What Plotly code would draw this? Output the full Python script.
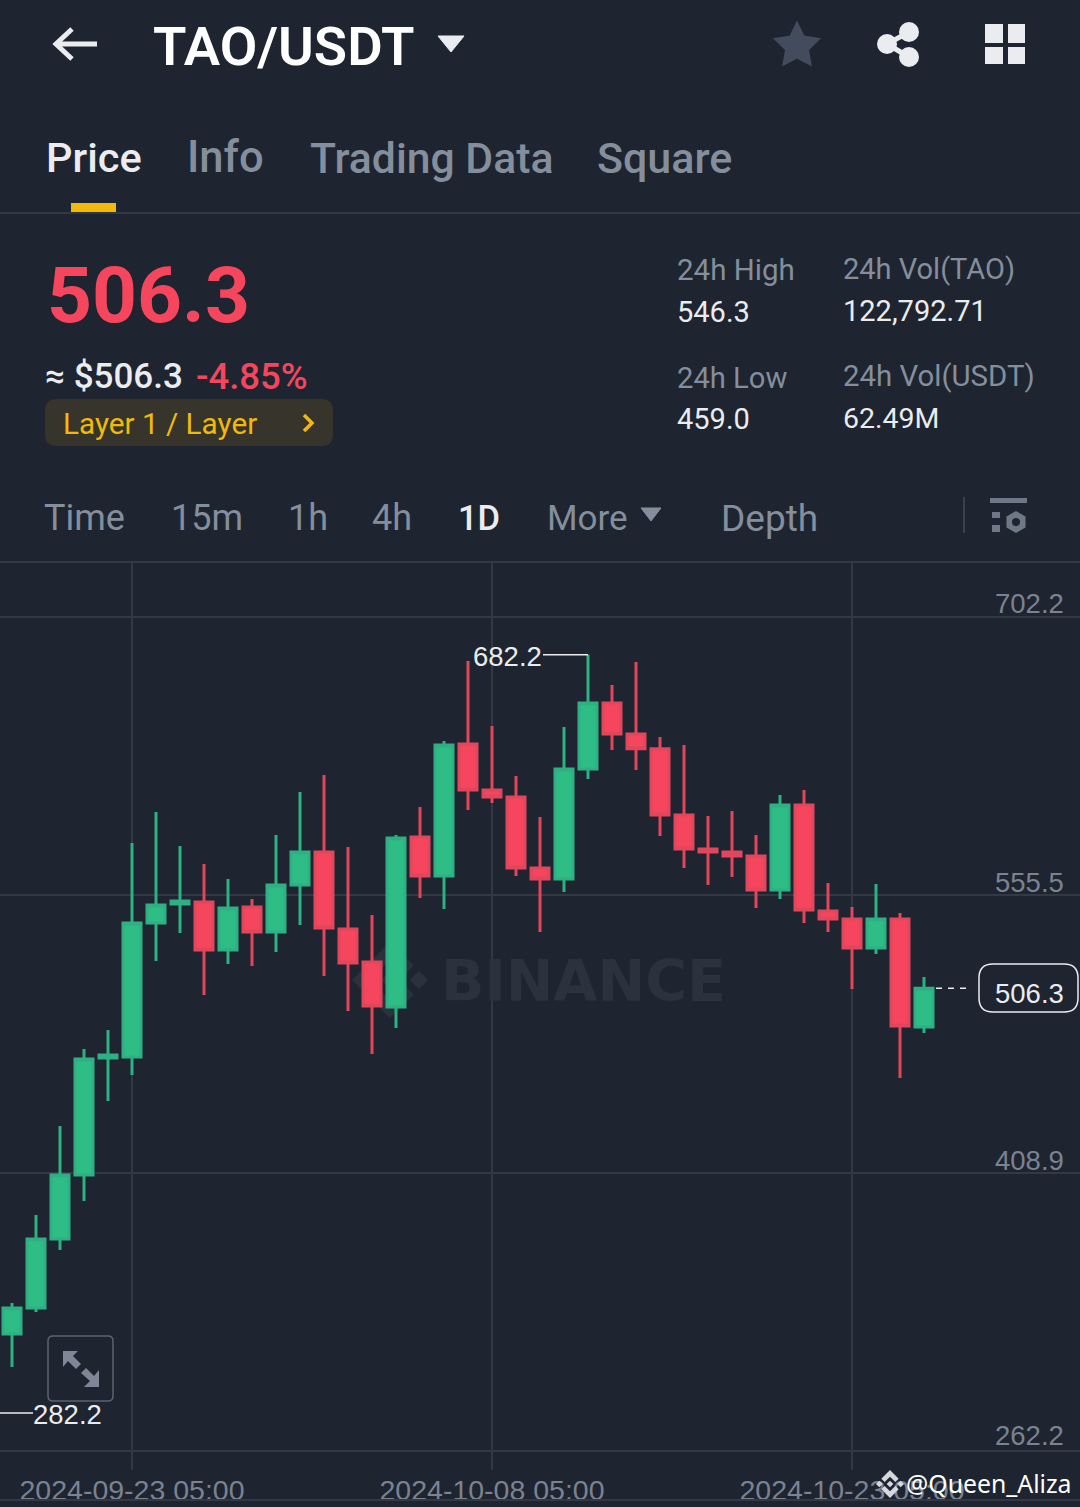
import math
import pandas as pd
import plotly.graph_objects as go

W, H = 1080, 1507

# daily candles, 2024-09-18 to 2024-10-26
dates = pd.date_range("2024-09-18 05:00", periods=39, freq="D")
opens = [323.8, 337.6, 374.0, 407.8, 469.5, 470.0, 540.7, 550.8, 551.8, 526.5,
         549.2, 536.0, 560.8, 578.2, 537.6, 520.2, 496.4, 586.1, 565.5, 635.2,
         610.9, 607.2, 569.8, 564.0, 622.0, 656.8, 640.5, 632.6, 597.7, 579.8,
         578.2, 576.1, 558.1, 603.0, 547.1, 542.8, 527.5, 542.8, 485.9]
highs = [340.2, 386.6, 433.6, 474.2, 484.3, 582.9, 599.3, 581.4, 571.9, 564.0,
         553.4, 587.2, 609.9, 618.8, 580.8, 545.0, 587.2, 601.9, 636.8, 679.0,
         644.7, 618.3, 596.7, 644.2, 682.2, 666.3, 678.5, 638.9, 634.7, 597.2,
         599.8, 587.2, 608.3, 610.9, 561.8, 549.2, 561.3, 546.0, 512.2]
lows = [306.4, 335.5, 368.2, 394.0, 446.8, 460.5, 520.7, 535.5, 502.7, 519.1,
        518.0, 525.4, 539.7, 512.8, 494.3, 471.6, 485.3, 553.9, 548.1, 600.4,
        604.1, 565.5, 536.0, 557.1, 616.7, 632.0, 621.5, 586.6, 569.8, 560.8,
        565.0, 548.6, 553.4, 540.7, 536.0, 505.9, 524.4, 458.9, 482.7]
closes = [337.6, 374.0, 407.8, 469.0, 471.1, 540.7, 550.2, 552.3, 526.5, 548.6,
          536.0, 560.8, 578.2, 538.1, 519.6, 496.9, 585.6, 565.5, 634.7, 610.9,
          607.2, 569.8, 564.0, 622.0, 656.8, 640.5, 632.6, 597.7, 579.8, 578.2,
          576.1, 558.1, 603.0, 547.6, 542.8, 527.5, 542.8, 486.4, 506.3]

price_ticks = [702.2, 555.5, 408.9, 262.2]
price_tick_labels = ["702.2", "555.5", "408.9", "262.2"]
date_ticks = ["2024-09-23 05:00", "2024-10-08 05:00", "2024-10-23 05:00"]
high_mark = 682.2
low_mark = 282.2
last_price = 506.3

BG = "#1e2530"
GRID = "#323945"
GREEN = "#2ebd85"
RED = "#f6465d"
WHITE = "#eaecef"
GRAY = "#848e9c"
AXIS_TXT = "#7b8290"
UI_FONT = "Roboto"
CHART_FONT = "Liberation Sans"


def fx(x):
    return x / W


def fy(y):
    return 1 - y / H


def poly(points, close=True):
    s = "M" + " L".join(f"{fx(x):.5f} {fy(y):.5f}" for x, y in points)
    return s + (" Z" if close else "")


def round_rect(x0, y0, x1, y1, r):
    return (f"M{fx(x0 + r):.5f} {fy(y0):.5f} L{fx(x1 - r):.5f} {fy(y0):.5f} "
            f"Q{fx(x1):.5f} {fy(y0):.5f} {fx(x1):.5f} {fy(y0 + r):.5f} "
            f"L{fx(x1):.5f} {fy(y1 - r):.5f} "
            f"Q{fx(x1):.5f} {fy(y1):.5f} {fx(x1 - r):.5f} {fy(y1):.5f} "
            f"L{fx(x0 + r):.5f} {fy(y1):.5f} "
            f"Q{fx(x0):.5f} {fy(y1):.5f} {fx(x0):.5f} {fy(y1 - r):.5f} "
            f"L{fx(x0):.5f} {fy(y0 + r):.5f} "
            f"Q{fx(x0):.5f} {fy(y0):.5f} {fx(x0 + r):.5f} {fy(y0):.5f} Z")


shapes = []
notes = []


def path(d, fill=None, line=None, width=0, layer="above"):
    shapes.append(dict(type="path", path=d, xref="paper", yref="paper", layer=layer,
                       fillcolor=fill if fill else "rgba(0,0,0,0)",
                       line=dict(color=line if line else "rgba(0,0,0,0)", width=width)))


def rect(x0, y0, x1, y1, fill):
    shapes.append(dict(type="rect", xref="paper", yref="paper", x0=fx(x0), x1=fx(x1),
                       y0=fy(y0), y1=fy(y1), fillcolor=fill, line=dict(width=0)))


def circle(cx, cy, r, fill):
    shapes.append(dict(type="circle", xref="paper", yref="paper", x0=fx(cx - r), x1=fx(cx + r),
                       y0=fy(cy - r), y1=fy(cy + r), fillcolor=fill, line=dict(width=0)))


def label(text, x, y, size, color, weight=400, family=UI_FONT, anchor="left"):
    # left anchored text lands about 2px to the right, so pull it back
    if anchor == "left":
        x = x - 2
    notes.append(dict(text=text, x=fx(x), y=fy(y), xref="paper", yref="paper", showarrow=False,
                      xanchor=anchor, yanchor="middle", borderpad=0,
                      font=dict(family=family, size=size, color=color, weight=weight)))


def diamond_logo(cx, cy, s, color, layer="above"):
    # centre and side diamonds, chevrons above and below
    for dx, dy in [(0, 0), (-0.76, 0), (0.76, 0)]:
        q = 0.24 * s
        x, y = cx + dx * s, cy + dy * s
        path(poly([(x, y - q), (x + q, y), (x, y + q), (x - q, y)]), fill=color, layer=layer)
    chevron = [(0, -1), (0.62, -0.38), (0.38, -0.14), (0, -0.52), (-0.38, -0.14), (-0.62, -0.38)]
    for sign in (1, -1):
        path(poly([(cx + a * s, cy + sign * b * s) for a, b in chevron]), fill=color, layer=layer)


# top bar
path(poly([(97, 44), (56, 44)], close=False), line=WHITE, width=5)
path(poly([(72, 29), (56, 44), (72, 59)], close=False), line=WHITE, width=5)
label("TAO/USDT", 154, 46, 54.5, "#ffffff", 600)
path(poly([(438, 36), (464, 36), (451, 52)]), fill=WHITE, line=WHITE, width=1)
star = []
for i in range(10):
    r = 22 if i % 2 == 0 else 11
    a = -math.pi / 2 + i * math.pi / 5
    star.append((797 + r * math.cos(a), 46 + r * math.sin(a)))
path(poly(star), fill="#434c5c", line="#434c5c", width=3)
path(poly([(909, 32), (887, 44), (909, 57)], close=False), line=WHITE, width=5)
circle(909, 32, 10, WHITE)
circle(887, 44, 10, WHITE)
circle(909, 57, 10, WHITE)
for x0, y0, x1, y1 in [(985, 24, 1003, 43), (1008, 24, 1025, 43), (985, 47, 1003, 64), (1008, 47, 1025, 64)]:
    rect(x0, y0, x1, y1, WHITE)

# tabs
label("Price", 47, 158, 41.5, WHITE, 500)
label("Info", 188, 158, 43.5, GRAY, 500)
label("Trading Data", 311, 158, 42.7, GRAY, 500)
label("Square", 598, 158, 43, GRAY, 500)
rect(71, 203, 116, 212, "#f0b90b")
rect(0, 212, W, 214, GRID)

# price block
label("506.3", 48, 295, 78.5, RED, 700)
label("≈ $506.3", 46, 376, 35, WHITE, 500)
label("-4.85%", 197, 376, 36.5, RED, 500)
path(round_rect(45, 399, 333, 446, 12), fill="#37352b")
label("Layer 1 / Layer", 64, 423, 29.7, "#f0b90b")
path(poly([(304, 415), (312, 423), (304, 431)], close=False), line="#f0b90b", width=3.5)
label("24h High", 678, 270, 29.5, GRAY)
label("546.3", 678, 312, 29, WHITE)
label("24h Vol(TAO)", 844, 269, 29, GRAY)
label("122,792.71", 844, 311, 29, WHITE)
label("24h Low", 678, 378, 29.2, GRAY)
label("459.0", 678, 419, 29, WHITE)
label("24h Vol(USDT)", 844, 376, 29.4, GRAY)
label("62.49M", 844, 419, 28.5, WHITE)

# interval row
label("Time", 45, 518, 36, GRAY)
label("15m", 172, 518, 36, GRAY)
label("1h", 289, 518, 36, GRAY)
label("4h", 373, 518, 36, GRAY)
label("1D", 459, 518, 34.5, WHITE, 500)
label("More", 548, 518, 35, GRAY)
path(poly([(641, 508), (661, 508), (651, 521)]), fill=GRAY, line=GRAY, width=1)
label("Depth", 722, 518, 37, GRAY)
rect(963, 497, 965, 533, "#3a414d")
rect(990, 498, 1027, 503, "#6f7886")
rect(992, 512, 1000, 518, "#6f7886")
rect(992, 525, 1000, 532, "#6f7886")
hexagon = [(1016 + 11 * math.cos(math.pi / 6 + i * math.pi / 3), 522 + 11 * math.sin(math.pi / 6 + i * math.pi / 3))
           for i in range(6)]
path(poly(hexagon), fill="#6f7886")
circle(1016, 522, 4, BG)

# chart frame
rect(0, 561, W, 563, GRID)
rect(0, 1499, W, 1501, GRID)

# watermark, under the candles
diamond_logo(390, 980, 38, "#2c323d", layer="below")
label("BINANCE", 442, 981, 57, "#2c323d", 700, family="DejaVu Sans")

# value labels of the price axis
for v, t, shift in zip(price_ticks, price_tick_labels, [13, 12, 12, 15]):
    notes.append(dict(text=t, x=fx(1065.5), y=v, xref="paper", yref="y", yshift=shift, showarrow=False,
                      xanchor="right", yanchor="middle",
                      font=dict(family=CHART_FONT, size=27.5, color=AXIS_TXT)))

# highest / lowest / last price marks
high_date = dates[highs.index(high_mark)]
shapes.append(dict(type="line", xref="x", yref="y", x0=high_date - pd.Timedelta(hours=45), x1=high_date,
                   y0=high_mark, y1=high_mark, line=dict(color=WHITE, width=1.5)))
notes.append(dict(text=str(high_mark), x=high_date - pd.Timedelta(hours=44), y=high_mark, xref="x", yref="y",
                  xanchor="right", yanchor="middle", yshift=-2, showarrow=False,
                  font=dict(family=CHART_FONT, size=27.5, color=WHITE)))
shapes.append(dict(type="line", xref="paper", yref="y", x0=0, x1=fx(33), y0=low_mark, y1=low_mark,
                   line=dict(color=WHITE, width=1.5)))
notes.append(dict(text=str(low_mark), x=fx(31), y=low_mark, xref="paper", yref="y", showarrow=False,
                  xanchor="left", yanchor="middle", yshift=-2,
                  font=dict(family=CHART_FONT, size=27.5, color=WHITE)))
shapes.append(dict(type="line", xref="paper", yref="y", x0=fx(936), x1=fx(966), y0=last_price, y1=last_price,
                   line=dict(color=WHITE, width=1.5, dash="6px,6px")))
path(round_rect(979, 964, 1078, 1012, 14), fill=BG, line=WHITE, width=1.5)
label(str(last_price), 1029, 993, 27.5, WHITE, family=CHART_FONT, anchor="center")

# expand button
path(round_rect(48, 1336, 113, 1401, 5), line="#5b6270", width=1.5)
path(poly([(63, 1351), (78, 1351), (73, 1356), (81, 1364), (76, 1369), (68, 1361), (63, 1367)]), fill="#7f8796")
path(poly([(99, 1387), (84, 1387), (90, 1381), (81, 1373), (86, 1368), (94, 1376), (99, 1370)]), fill="#7f8796")

# footer tag
diamond_logo(890, 1484, 14, "#d5d8dc")
label("@Queen_Aliza", 907, 1483, 24.8, "#ffffff", family="Noto Sans")

fig = go.Figure(go.Candlestick(
    x=dates, open=opens, high=highs, low=lows, close=closes,
    increasing=dict(fillcolor=GREEN, line=dict(color="#2fb083", width=3)),
    decreasing=dict(fillcolor=RED, line=dict(color="#e0465c", width=3)),
    whiskerwidth=0,
    hoverinfo="skip",
))

fig.update_layout(
    width=W, height=H,
    margin=dict(l=0, r=0, t=0, b=0),
    paper_bgcolor=BG, plot_bgcolor=BG,
    showlegend=False,
    boxgap=0.25, boxgroupgap=0,
    shapes=shapes, annotations=notes,
    xaxis=dict(
        domain=[0, 1],
        range=["2024-09-17 17:00", "2024-11-01 17:00"],
        rangeslider=dict(visible=False),
        tickmode="array", tickvals=date_ticks, tickformat="%Y-%m-%d %H:%M",
        showgrid=True, gridcolor=GRID, gridwidth=1.5, zeroline=False, showline=False, ticks="",
        tickangle=0,
        tickfont=dict(family=CHART_FONT, size=28.5, color=AXIS_TXT),
    ),
    yaxis=dict(
        domain=[fy(1470), fy(562)],
        range=[252.1, 731.2],
        tickmode="array", tickvals=price_ticks, showticklabels=False,
        showgrid=True, gridcolor=GRID, gridwidth=1.5, zeroline=False, showline=False, ticks="",
    ),
)

fig.write_html("out.html", config={"displayModeBar": False},
               post_script="document.body.style.margin='0';")
